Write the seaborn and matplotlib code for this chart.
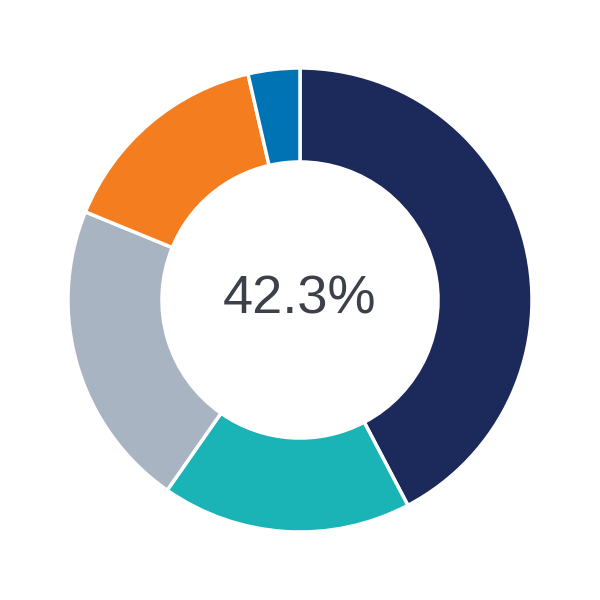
import seaborn as sns
import matplotlib.pyplot as plt

sns.set_theme(style="white")
plt.rcParams['font.family'] = ['Liberation Sans', 'DejaVu Sans']

# slice values, clockwise from the top
labels = ['Navy', 'Teal', 'Gray', 'Orange', 'Blue']
values = [42.3, 17.4, 21.5, 15.2, 3.6]
colors = ['#1b2a5a', '#1ab3b6', '#a8b4c2', '#f47d20', '#0073b5']
center_label = '42.3%'

fig = plt.figure(figsize=(6, 6), dpi=100)
ax = fig.add_axes([0, 0, 1, 1])

wedges, _ = ax.pie(values, colors=sns.color_palette(colors), startangle=90, counterclock=False,
                   radius=1.0, wedgeprops=dict(width=0.405, edgecolor='white', linewidth=2.5))

ax.text(0, 0, center_label, ha='center', va='center', fontsize=39, color='#3b404b')

lim = 300 / 232
ax.set_xlim(-lim, lim)
ax.set_ylim(-lim, lim)
ax.set_aspect('equal')
ax.axis('off')

plt.savefig('out.png', dpi=100, facecolor='white')
plt.close()
